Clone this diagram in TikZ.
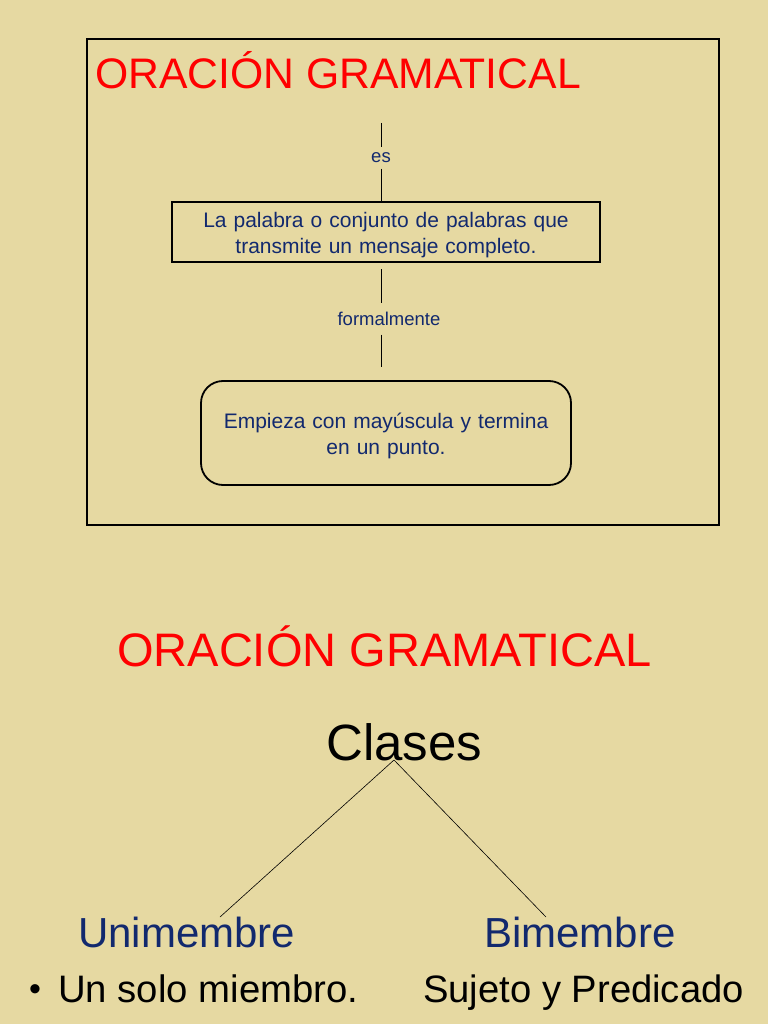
\documentclass[tikz,border=0pt]{standalone}
\usepackage{fontspec}
\setmainfont{Liberation Sans}
\definecolor{bg}{HTML}{E6D9A2}
\definecolor{navy}{HTML}{12296E}
\definecolor{tred}{HTML}{FF0000}
\tikzset{
  fs/.style={font=\fontsize{#1}{#1}\selectfont},
  title/.style={text=tred, fs=42.7, anchor=base west, inner sep=0},
  boxtxt/.style={text=navy, fs=21, align=center, inner sep=0, text width=430},
  lbl/.style={text=navy, fs=18.5, inner sep=0},
  conn/.style={draw=black, line width=0.9pt},
  big/.style={anchor=base west, inner sep=0},
}
\begin{document}
\begin{tikzpicture}[x=1pt,y=-1pt]
\useasboundingbox[fill=bg] (0,0) rectangle (768,1024);
% top frame
\node[draw=black, line width=1.6pt, minimum width=632, minimum height=486, inner sep=0, anchor=north west] (frame) at (86,38) {};
\node[title] (t1) at (95,89) {ORACIÓN GRAMATICAL};
% first box
\node[draw=black, line width=2.2pt, minimum width=428, minimum height=60, inner sep=0] (b1) at (386,232) {};
\node[boxtxt, anchor=base] (b1t) at (386,227) {La palabra o conjunto de palabras que\\[5pt]transmite un mensaje completo.};
% second box
\node[draw=black, line width=1.8pt, rounded corners=22, minimum width=370, minimum height=104, inner sep=0] (b2) at (386,433) {};
\node[boxtxt, anchor=base] (b2t) at (386,428) {Empieza con mayúscula y termina\\[5pt]en un punto.};
% connectors and labels
\coordinate (c1) at (381,123);
\node[lbl, minimum height=21] (es) at (381,158) {es};
\draw[conn] (c1) -- (es);
\draw[conn] (es) -- (es |- b1.north);
\coordinate (c3) at (381,269);
\coordinate (c2) at (381,367);
\node[lbl, minimum height=31] (fm) at (389,319) {formalmente};
\draw[conn] (c3) -- (fm.north -| c3);
\draw[conn] (fm.south -| c2) -- (c2);
% bottom
\node[title, fs=47] (t2) at (117,666) {ORACIÓN GRAMATICAL};
\node[big, fs=51] (cl) at (326,760) {Clases};
\coordinate (apex) at (394,760);
\node[big, fs=42, text=navy] (uni) at (78,947) {Unimembre};
\node[big, fs=42, text=navy] (bi) at (484,947) {Bimembre};
\coordinate (ul) at (220,917);
\coordinate (bl) at (546,917);
\draw[line width=0.6pt] (apex) -- (ul);
\draw[line width=0.6pt] (apex) -- (bl);
\node[big, fs=34] (bul) at (29,1000) {•};
\node[big, fs=38.3] (u1) at (58,1002) {Un solo miembro.};
\node[big, fs=38.2] (s1) at (423,1002) {Sujeto y Predicado};
\end{tikzpicture}
\end{document}
